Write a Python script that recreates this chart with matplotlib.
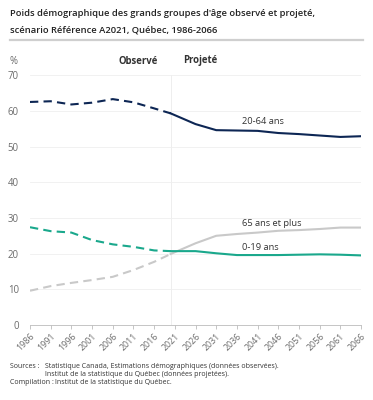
import matplotlib.pyplot as plt

plt.rcParams['font.family'] = ['Open Sans', 'DejaVu Sans']

# années observées / projetées
obs_years = [1986, 1991, 1996, 2001, 2006, 2011, 2016, 2020]
proj_years = [2020, 2026, 2031, 2036, 2041, 2046, 2051, 2056, 2061, 2066]

# 20-64 ans
adult_obs = [62.5, 62.7, 61.8, 62.3, 63.3, 62.4, 60.7, 59.3]
adult_proj = [59.3, 56.3, 54.6, 54.5, 54.4, 53.8, 53.5, 53.1, 52.7, 52.9]
# 0-19 ans
young_obs = [27.4, 26.3, 25.9, 23.8, 22.6, 21.9, 20.9, 20.7]
young_proj = [20.7, 20.7, 20.1, 19.6, 19.6, 19.6, 19.7, 19.8, 19.7, 19.5]
# 65 ans et plus
old_obs = [9.6, 10.9, 11.8, 12.6, 13.5, 15.4, 17.7, 19.9]
old_proj = [19.9, 22.9, 25.0, 25.5, 25.9, 26.4, 26.6, 26.9, 27.3, 27.3]

xticks = list(range(1986, 2067, 5))
yticks = [0, 10, 20, 30, 40, 50, 60, 70]
split_year = 2020

navy = '#0d2654'
teal = '#1aa88c'
grey = '#c9c9c9'
tick_col = '#6b6b6b'

fig = plt.figure(figsize=(3.73, 4.0), dpi=100)
ax = fig.add_axes([0.0804, 0.1875, 0.8876, 0.6245])

for y in yticks[1:]:
    ax.axhline(y, color='#efefef', lw=0.6, zorder=0)
ax.axvline(split_year, color='#eeeeee', lw=0.7, zorder=0)

ax.plot(obs_years, old_obs, color=grey, lw=1.5, ls=(0, (4, 2.5)))
ax.plot(proj_years, old_proj, color=grey, lw=1.5)
ax.plot(obs_years, young_obs, color=teal, lw=1.5, ls=(0, (4, 2.5)))
ax.plot(proj_years, young_proj, color=teal, lw=1.5)
ax.plot(obs_years, adult_obs, color=navy, lw=1.5, ls=(0, (4, 2.5)))
ax.plot(proj_years, adult_proj, color=navy, lw=1.5)

ax.text(2037.2, 56.9, '20-64 ans', fontsize=6.7, color='#333333', va='center')
ax.text(2037.2, 28.5, '65 ans et plus', fontsize=6.7, color='#333333', va='center')
ax.text(2037.2, 21.8, '0-19 ans', fontsize=6.7, color='#333333', va='center')

ax.set_xlim(1986, 2066)
ax.set_ylim(0, 70)
ax.set_xticks(xticks)
ax.set_xticklabels([str(x) for x in xticks], rotation=45, ha='right',
                   rotation_mode='anchor', fontsize=6.4, color=tick_col)
ax.set_yticks(yticks)
ax.set_yticklabels([str(y) for y in yticks], fontsize=6.9, color=tick_col)
ax.tick_params(axis='y', length=0, pad=8)
ax.tick_params(axis='x', length=3, width=0.6, color='#bbbbbb', pad=2)
for s in ['top', 'right', 'left']:
    ax.spines[s].set_visible(False)
ax.spines['bottom'].set_color('#bbbbbb')
ax.spines['bottom'].set_linewidth(0.6)

fig.text(10 / 373, 1 - 13 / 400,
         "Poids démographique des grands groupes d'âge observé et projeté,",
         fontsize=6.75, fontweight='semibold', color='#222222', va='center')
fig.text(10 / 373, 1 - 30 / 400,
         'scénario Référence A2021, Québec, 1986-2066',
         fontsize=6.75, fontweight='semibold', color='#222222', va='center')
fig.add_artist(plt.Line2D([10 / 373, 363 / 373], [1 - 39.5 / 400, 1 - 39.5 / 400],
                          color='#cfcfcf', lw=1.6))

fig.text(10 / 373, 1 - 61 / 400, '%', fontsize=6.9, color=tick_col, va='center')
fig.text(158 / 373, 1 - 61 / 400, 'Observé', fontsize=6.9, fontweight='bold',
         color='#333333', va='center', ha='right')
fig.text(183 / 373, 1 - 61 / 400, 'Projeté', fontsize=6.9, fontweight='bold',
         color='#333333', va='center', ha='left')

src_col = '#333333'
src_fs = 5.0
fig.text(10 / 373, 1 - 367 / 400, 'Sources :', fontsize=src_fs, color=src_col, va='center')
fig.text(45 / 373, 1 - 367 / 400,
         'Statistique Canada, Estimations démographiques (données observées).',
         fontsize=src_fs, color=src_col, va='center')
fig.text(45 / 373, 1 - 375 / 400,
         'Institut de la statistique du Québec (données projetées).',
         fontsize=src_fs, color=src_col, va='center')
fig.text(10 / 373, 1 - 383 / 400, 'Compilation :', fontsize=src_fs, color=src_col, va='center')
fig.text(55 / 373, 1 - 383 / 400, 'Institut de la statistique du Québec.',
         fontsize=src_fs, color=src_col, va='center')

fig.savefig('out.png', dpi=100)
